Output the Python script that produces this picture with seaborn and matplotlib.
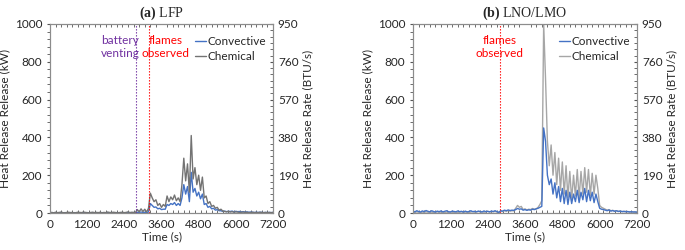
import numpy as np
import pandas as pd
import matplotlib
matplotlib.use("Agg")
import matplotlib.pyplot as plt
import seaborn as sns
from matplotlib.ticker import MultipleLocator

# sample times (s), one reading every 60 s
time_s = np.arange(0, 7260, 60)

# (a) LFP, kW
lfp_chemical = [2, 3, 1, 4, 2, 3, 5, 2, 1, 3, 4, 2, 3, 1, 2, 4, 3, 2, 5, 3,
                2, 1, 3, 4, 2, 3, 2, 4, 1, 3, 2, 5, 3, 2, 4, 3, 1, 2, 3, 4,
                2, 3, 6, 2, 4, 3,
                3, 18, 6, 22, 8, 20, 5, 25,
                105, 80, 60, 70, 40, 50, 30, 45, 35, 90,
                60, 85, 70, 95, 65, 80, 60, 150, 290, 170,
                260, 110, 410, 180, 240, 150, 200, 120, 190, 80,
                90, 50, 60, 35, 40, 25, 30, 15, 20, 10,
                8, 6, 9, 5, 7, 4, 6, 5, 3, 4, 5, 3, 4, 2, 3, 4, 2, 3, 2, 4,
                3, 2, 3, 2, 3, 2, 3]
lfp_convective = [1, 2, 1, 2, 1, 1, 2, 1, 2, 1, 1, 2, 1, 2, 1, 2, 1, 1, 2, 1,
                  2, 1, 1, 2, 1, 2, 1, 1, 2, 1, 1, 2, 1, 2, 1, 1, 2, 1, 2, 1,
                  1, 2, 1, 2, 1, 2,
                  2, 4, 3, 5, 3, 4, 2, 5,
                  50, 40, 30, 32, 22, 25, 18, 20, 20, 45,
                  40, 50, 45, 55, 40, 50, 40, 80, 150, 100,
                  140, 60, 215, 110, 130, 90, 110, 75, 100, 45,
                  50, 30, 35, 22, 25, 15, 18, 12, 12, 8,
                  10, 7, 9, 8, 10, 6, 9, 7, 8, 6, 7, 5, 6, 4, 5, 4, 3, 4, 3, 4,
                  3, 2, 3, 2, 3, 2, 3]

# (b) LNO/LMO, kW
lno_chemical = [5, 3, 6, 4, 2, 5, 3, 6, 4, 3, 5, 2, 4, 6, 3, 5, 4, 2, 5, 3,
                6, 4, 3, 5, 2, 4, 6, 3, 5, 4, 3, 5, 7, 4, 6, 8, 5, 7, 4, 6,
                9, 5, 7, 6, 8, 5, 4,
                10, 8, 12, 9, 14, 10, 12, 11, 25, 40, 30, 35,
                18, 22, 16, 20, 18, 24, 20, 22, 30, 45, 65,
                1000, 710, 380, 250, 360, 200, 320, 150, 290, 120,
                270, 100, 250, 80, 220, 70, 200, 90, 230, 80,
                220, 100, 240, 110, 230, 90, 210, 100, 200, 130,
                40, 30, 25,
                20, 15, 18, 12, 14, 10, 12, 9, 10, 8, 7, 9, 6, 7, 5, 6, 4, 5]
lno_convective = [10, 6, 12, 8, 5, 11, 7, 13, 9, 6, 12, 8, 5, 10, 7, 11, 6, 9, 12, 7,
                  5, 10, 8, 6, 11, 7, 9, 5, 10, 6, 8, 12, 7, 9, 6, 10, 8, 5, 11, 7,
                  9, 6, 10, 8, 12, 7, 3,
                  12, 10, 15, 12, 16, 13, 15, 14, 18, 24, 20, 22,
                  15, 18, 14, 17, 15, 20, 18, 22, 25, 30, 35,
                  450, 380, 200, 150, 180, 100, 160, 80, 140, 60,
                  130, 50, 120, 45, 110, 50, 100, 60, 120, 55,
                  110, 70, 130, 60, 120, 65, 110, 55, 100, 60,
                  25, 20, 18,
                  15, 12, 16, 10, 13, 9, 12, 8, 10, 7, 9, 6, 8, 5, 7, 5, 6, 4]

x_ticks = [0, 1200, 2400, 3600, 4800, 6000, 7200]
kw_ticks = [0, 200, 400, 600, 800, 1000]
btu_ticks = [0, 190, 380, 570, 760, 950]

sns.set_style("ticks")
plt.rcParams['font.family'] = ['Lato', 'DejaVu Sans']
plt.rcParams['mathtext.fontset'] = 'custom'
plt.rcParams['mathtext.rm'] = 'Liberation Serif'
plt.rcParams['mathtext.bf'] = 'Liberation Serif:bold'

spine_col = '#8c8c8c'
fs = 8.5

fig = plt.figure(figsize=(6.85, 2.5), dpi=100)
ax_a = fig.add_axes([50 / 685, 37 / 250, 223 / 685, 189 / 250])
ax_b = fig.add_axes([413 / 685, 37 / 250, 224 / 685, 189 / 250])


def panel(ax, chem, conv, chem_color, title, conv_on_top):
    df = pd.DataFrame({'Time': np.concatenate([time_s, time_s]),
                       'HRR': np.concatenate([conv, chem]),
                       'Series': ['Convective'] * len(time_s) + ['Chemical'] * len(time_s)})
    order = ['Chemical', 'Convective'] if conv_on_top else ['Convective', 'Chemical']
    pal = {'Convective': '#4472C4', 'Chemical': chem_color}
    for name in order:
        sns.lineplot(data=df[df['Series'] == name], x='Time', y='HRR', color=pal[name],
                     linewidth=1.0, estimator=None, ax=ax, label=name)
    handles, labels = ax.get_legend_handles_labels()
    hmap = dict(zip(labels, handles))
    ax.legend([hmap['Convective'], hmap['Chemical']], ['Convective', 'Chemical'],
              loc='upper right', bbox_to_anchor=(1.0, 0.975), frameon=False,
              fontsize=fs, handlelength=0.9, handletextpad=0.15, labelspacing=0.35,
              borderaxespad=0.2)
    ax.set_xlim(0, 7200)
    ax.set_ylim(0, 1000)
    ax.set_xticks(x_ticks)
    ax.set_yticks(kw_ticks)
    ax.xaxis.set_minor_locator(MultipleLocator(180))
    ax.yaxis.set_minor_locator(MultipleLocator(40))
    ax.tick_params(axis='x', which='both', direction='in', top=True, bottom=True,
                   length=2, color='#555555', labelsize=fs, pad=4)
    ax.tick_params(axis='x', which='major', length=0)
    ax.tick_params(axis='y', which='both', direction='out', length=2,
                   color='#555555', labelsize=fs)
    ax.set_xlabel('Time (s)', fontsize=fs, labelpad=1)
    ax.set_ylabel('Heat Release Release (kW)', fontsize=fs, labelpad=3)
    for s in ax.spines.values():
        s.set_color(spine_col)
        s.set_linewidth(0.8)
    ax.set_title(title, fontsize=10, family='Liberation Serif', pad=5)

    ax2 = ax.twinx()
    ax2.set_ylim(0, 950)
    ax2.set_yticks(btu_ticks)
    ax2.yaxis.set_minor_locator(MultipleLocator(950 / 30))
    ax2.tick_params(axis='y', which='both', direction='in', length=2,
                    color='#555555', labelsize=fs)
    ax2.set_ylabel('Heat Release Rate (BTU/s)', fontsize=fs, labelpad=3)
    for s in ax2.spines.values():
        s.set_color(spine_col)
        s.set_linewidth(0.8)
    return ax2


panel(ax_a, lfp_chemical, lfp_convective, '#737373', r'$\mathbf{(a)}$ LFP', False)
panel(ax_b, lno_chemical, lno_convective, '#a6a6a6', r'$\mathbf{(b)}$ LNO/LMO', True)

# event markers
ax_a.axvline(2770, color='#7030A0', linestyle=(0, (1.2, 1.5)), linewidth=0.8)
ax_a.axvline(3190, color='#FF0000', linestyle=(0, (1.2, 1.5)), linewidth=0.8)
ax_a.text(2270, 878, 'battery\nventing', color='#7030A0', ha='center', va='center',
          fontsize=fs, linespacing=1.25)
ax_a.text(3720, 878, 'flames\nobserved', color='#FF0000', ha='center', va='center',
          fontsize=fs, linespacing=1.25)

ax_b.axvline(2790, color='#FF0000', linestyle=(0, (1.2, 1.5)), linewidth=0.8)
ax_b.text(2790, 878, 'flames\nobserved', color='#FF0000', ha='center', va='center',
          fontsize=fs, linespacing=1.25)

fig.savefig('out.png', dpi=100)
